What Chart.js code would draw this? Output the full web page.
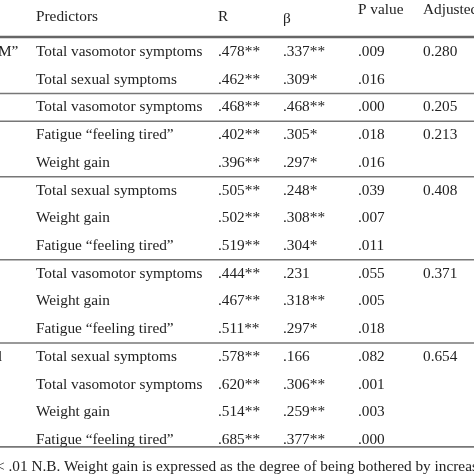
<!DOCTYPE html>
<html>
<head>
<meta charset="utf-8">
<script src="https://cdn.jsdelivr.net/npm/chart.js@4"></script>
<style>
  html, body { margin: 0; padding: 0; background: #fff; }
  #wrap { width: 474px; height: 474px; }
</style>
</head>
<body>
<div id="wrap"><canvas id="tbl"></canvas></div>
<script>
// table contents (row 1..15)
var groupLabels = ["M\u201d", "", "", "", "", "", "", "", "", "", "", "l", "", "", ""];
var predictors = [
  "Total vasomotor symptoms", "Total sexual symptoms",
  "Total vasomotor symptoms",
  "Fatigue \u201cfeeling tired\u201d", "Weight gain",
  "Total sexual symptoms", "Weight gain", "Fatigue \u201cfeeling tired\u201d",
  "Total vasomotor symptoms", "Weight gain", "Fatigue \u201cfeeling tired\u201d",
  "Total sexual symptoms", "Total vasomotor symptoms", "Weight gain", "Fatigue \u201cfeeling tired\u201d"
];
var rVals = [".478**", ".462**", ".468**", ".402**", ".396**", ".505**", ".502**", ".519**",
             ".444**", ".467**", ".511**", ".578**", ".620**", ".514**", ".685**"];
var betaVals = [".337**", ".309*", ".468**", ".305*", ".297*", ".248*", ".308**", ".304*",
                ".231", ".318**", ".297*", ".166", ".306**", ".259**", ".377**"];
var pVals = [".009", ".016", ".000", ".018", ".016", ".039", ".007", ".011",
             ".055", ".005", ".018", ".082", ".001", ".003", ".000"];
var adjVals = ["0.280", "", "0.205", "0.213", "", "0.408", "", "", "0.371", "", "", "0.654", "", "", ""];
var headers = ["Predictors", "R", "\u03b2", "P value", "Adjusted"];
var footnote = "< .01 N.B. Weight gain is expressed as the degree of being bothered by increas";
var ruleRows = [2.5, 3.5, 5.5, 8.5, 11.5, 15.25];

var colX = { group: -2, pred: 36, r: 218, beta: 283, p: 358, adj: 423 };

var cells = [];
function addCol(arr, x) {
  arr.forEach(function (t, i) { if (t) cells.push({ x: x, y: i + 1, text: t }); });
}
addCol(groupLabels, colX.group);
addCol(predictors, colX.pred);
addCol(rVals, colX.r);
addCol(betaVals, colX.beta);
addCol(pVals, colX.p);
addCol(adjVals, colX.adj);
cells.push({ x: colX.pred, y: -0.26, text: headers[0] });
cells.push({ x: colX.r, y: -0.26, text: headers[1] });
cells.push({ x: colX.beta, y: -0.2, text: headers[2] });
cells.push({ x: colX.p, y: -0.52, text: headers[3] });
cells.push({ x: colX.adj, y: -0.52, text: headers[4] });
cells.push({ x: -4, y: 15.98, text: footnote });

var datasets = [{
  data: cells.map(function (c) { return { x: c.x, y: c.y, text: c.text }; }),
  pointRadius: 0, showLine: false
}];
// header rule (thick)
datasets.push({
  data: [{ x: 0, y: 0.46 }, { x: 474, y: 0.46 }],
  showLine: true, borderColor: "#666", borderWidth: 2.5, pointRadius: 0
});
ruleRows.forEach(function (r) {
  datasets.push({
    data: [{ x: 0, y: r }, { x: 474, y: r }],
    showLine: true, borderColor: "#777", borderWidth: 1.6, pointRadius: 0
  });
});

var textPlugin = {
  id: "cellText",
  afterDatasetsDraw: function (chart) {
    var ctx = chart.ctx;
    var xs = chart.scales.x, ys = chart.scales.y;
    ctx.save();
    ctx.fillStyle = "#222";
    ctx.font = "15.3px 'Liberation Serif', serif";
    ctx.textBaseline = "middle";
    ctx.textAlign = "left";
    chart.data.datasets[0].data.forEach(function (d) {
      ctx.fillText(d.text, xs.getPixelForValue(d.x), ys.getPixelForValue(d.y));
    });
    ctx.restore();
  }
};

new Chart("tbl", {
  type: "scatter",
  data: { datasets: datasets },
  options: {
    responsive: true,
    maintainAspectRatio: false,
    animation: false,
    layout: { padding: 0 },
    plugins: { legend: { display: false }, tooltip: { enabled: false } },
    scales: {
      x: { type: "linear", min: 0, max: 474, display: false },
      y: { type: "linear", min: -0.877, max: 16.23, reverse: true, display: false }
    }
  },
  plugins: [textPlugin]
});
</script>
</body>
</html>
